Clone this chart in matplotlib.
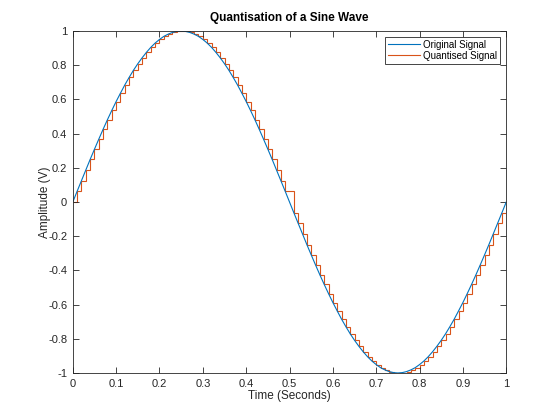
import numpy as np
import matplotlib
matplotlib.use("Agg")
import matplotlib.pyplot as plt
from matplotlib.ticker import FuncFormatter

# Sample period and number of samples (time axis)
sample_period = 0.01
n_samples = 100

# Original signal values read at every 0.01 s from 0 to 1.0 s
half_rise = [0.0, 0.063, 0.125, 0.187, 0.249, 0.309, 0.368, 0.426, 0.482, 0.536,
             0.588, 0.637, 0.685, 0.729, 0.771, 0.809, 0.844, 0.876, 0.905, 0.930,
             0.951, 0.969, 0.982, 0.992, 0.998, 1.0]
positive_lobe = half_rise + half_rise[-2::-1]          # 0 .. 0.50 s (51 values)
original_values = positive_lobe + [-v for v in positive_lobe[1:]]  # 0 .. 1.0 s (101 values)

# Quantised signal values (held for one sample period each), 0 .. 0.99 s
quantised_values = list(original_values[:100])
quantised_values[50] = 0.063   # value held at 0.50 s in the picture

time_original = np.arange(len(original_values)) * sample_period
time_edges = np.arange(n_samples + 1) * sample_period

x_ticks = [0, 0.1, 0.2, 0.3, 0.4, 0.5, 0.6, 0.7, 0.8, 0.9, 1]
y_ticks = [-1, -0.8, -0.6, -0.4, -0.2, 0, 0.2, 0.4, 0.6, 0.8, 1]

plt.rcParams['font.family'] = ['Liberation Sans', 'DejaVu Sans']

fig = plt.figure(figsize=(5.6, 4.2), dpi=100)
ax = fig.add_axes([0.130, 0.112, 0.774, 0.814])

blue = '#0072BD'
orange = '#D95319'
axcol = '#262626'

ax.plot(time_original, original_values, color=blue, lw=0.8, label='Original Signal')
ax.stairs(quantised_values, time_edges, color=orange, lw=0.8, baseline=None,
          label='Quantised Signal')

ax.set_xlim(0, 1)
ax.set_ylim(-1, 1)
ax.set_xticks(x_ticks)
ax.set_yticks(y_ticks)
fmt = FuncFormatter(lambda v, p: '%g' % round(v, 6))
ax.xaxis.set_major_formatter(fmt)
ax.yaxis.set_major_formatter(fmt)
ax.tick_params(direction='in', length=4, width=0.6, colors=axcol, labelsize=8,
               top=True, right=True, pad=4)
for s in ax.spines.values():
    s.set_color(axcol)
    s.set_linewidth(0.6)

ax.set_title('Quantisation of a Sine Wave', fontsize=8.5, fontweight='bold', pad=7)
ax.set_xlabel('Time (Seconds)', fontsize=8.5, color=axcol, labelpad=1)
ax.set_ylabel('Amplitude (V)', fontsize=8.5, color=axcol, labelpad=-2)

leg = ax.legend(loc='upper right', fontsize=7, frameon=True, fancybox=False,
                edgecolor=axcol, framealpha=1, borderpad=0.3, handlelength=3.3,
                handletextpad=0.4, labelspacing=0.1, borderaxespad=0.6)
leg.get_frame().set_linewidth(0.6)

fig.savefig('out.png', dpi=100)
